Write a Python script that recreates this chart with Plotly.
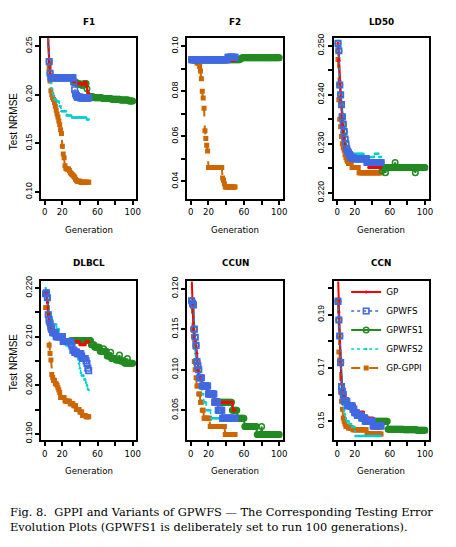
import plotly.graph_objects as go

# generations (x values)
GEN_50 = list(range(1, 51))
GEN_100 = list(range(1, 101))

SERIES_NAMES = ["GP", "GPWFS", "GPWFS1", "GPWFS2", "GP-GPPI"]
PANEL_TITLES = ["F1", "F2", "LD50", "DLBCL", "CCUN", "CCN"]

# ---- F1 ----
F1_GP = [
    0.300, 0.285, 0.272, 0.262, 0.234, 0.222, 0.2175, 0.2175, 0.2175, 0.2175,
    0.2175, 0.2175, 0.2175, 0.2175, 0.2175, 0.2175, 0.2175, 0.2175, 0.2175, 0.2175,
    0.2175, 0.2175, 0.2175, 0.2175, 0.2175, 0.2175, 0.2175, 0.2175, 0.2175, 0.2175,
    0.2175, 0.2175, 0.2135, 0.2135, 0.2135, 0.2135, 0.2115, 0.2115, 0.2115, 0.2115,
    0.2115, 0.2105, 0.2105, 0.2105, 0.2125, 0.2125, 0.2125, 0.2085, 0.2025, 0.2020,
]
F1_GPWFS = [
    0.300, 0.285, 0.272, 0.262, 0.234, 0.222, 0.2175, 0.2175, 0.2175, 0.2175,
    0.2175, 0.2175, 0.2175, 0.2175, 0.2175, 0.2175, 0.2175, 0.2175, 0.2175, 0.2175,
    0.2175, 0.2175, 0.2175, 0.2175, 0.2175, 0.2175, 0.2175, 0.2175, 0.2175, 0.2175,
    0.2175, 0.2175, 0.2130, 0.2050, 0.2010, 0.1990, 0.1975, 0.1975, 0.1975, 0.1975,
    0.1965, 0.1965, 0.1965, 0.1965, 0.1965, 0.1965, 0.1965, 0.1965, 0.1965, 0.1965,
]
F1_GPWFS1 = [
    0.300, 0.285, 0.272, 0.262, 0.234, 0.222, 0.2175, 0.2175, 0.2175, 0.2175,
    0.2175, 0.2175, 0.2175, 0.2175, 0.2175, 0.2175, 0.2175, 0.2175, 0.2175, 0.2175,
    0.2175, 0.2175, 0.2175, 0.2175, 0.2175, 0.2175, 0.2175, 0.2175, 0.2175, 0.2175,
    0.2175, 0.2175, 0.2125, 0.2125, 0.2125, 0.2125, 0.2110, 0.2110, 0.2110, 0.2110,
    0.2110, 0.2098, 0.2098, 0.2098, 0.2115, 0.2115, 0.2115, 0.2060, 0.1978, 0.1978,
    0.1978, 0.1978, 0.1978, 0.1978, 0.1978, 0.1968, 0.1968, 0.1968, 0.1968, 0.1968,
    0.1968, 0.1968, 0.1968, 0.1968, 0.1968, 0.1960, 0.1960, 0.1960, 0.1960, 0.1960,
    0.1960, 0.1960, 0.1960, 0.1960, 0.1960, 0.1952, 0.1952, 0.1952, 0.1952, 0.1952,
    0.1952, 0.1952, 0.1952, 0.1952, 0.1952, 0.1945, 0.1945, 0.1945, 0.1945, 0.1945,
    0.1945, 0.1945, 0.1945, 0.1945, 0.1945, 0.1935, 0.1935, 0.1935, 0.1935, 0.1935,
]
F1_GPWFS2 = [
    0.300, 0.285, 0.272, 0.262, 0.234, 0.222, 0.212, 0.206, 0.202, 0.199,
    0.1950, 0.1950, 0.1950, 0.1930, 0.1930, 0.1930, 0.1880, 0.1880, 0.1830, 0.1830,
    0.1830, 0.1830, 0.1830, 0.1830, 0.1785, 0.1785, 0.1785, 0.1785, 0.1785, 0.1785,
    0.1765, 0.1765, 0.1765, 0.1765, 0.1765, 0.1765, 0.1765, 0.1765, 0.1765, 0.1765,
    0.1765, 0.1765, 0.1765, 0.1765, 0.1765, 0.1765, 0.1765, 0.1745, 0.1745, 0.1745,
]
F1_GPPI = [
    0.300, 0.285, 0.272, 0.262, 0.228, 0.214, 0.204, 0.200, 0.197, 0.195,
    0.192, 0.188, 0.184, 0.180, 0.177, 0.173, 0.169, 0.164, 0.160, 0.147,
    0.139, 0.135, 0.127, 0.124, 0.1235, 0.1235, 0.1235, 0.122, 0.120, 0.119,
    0.118, 0.117, 0.116, 0.115, 0.113, 0.112, 0.111, 0.111, 0.111, 0.111,
    0.110, 0.110, 0.110, 0.110, 0.110, 0.110, 0.110, 0.110, 0.110, 0.110,
]

# ---- F2 ----
F2_GP = [
    0.0940, 0.0940, 0.0940, 0.0940, 0.0940, 0.0940, 0.0940, 0.0940, 0.0940, 0.0940,
    0.0940, 0.0940, 0.0940, 0.0940, 0.0940, 0.0940, 0.0940, 0.0940, 0.0940, 0.0940,
    0.0940, 0.0940, 0.0940, 0.0940, 0.0940, 0.0940, 0.0940, 0.0940, 0.0940, 0.0940,
    0.0940, 0.0940, 0.0940, 0.0940, 0.0940, 0.0940, 0.0940, 0.0940, 0.0940, 0.0940,
    0.0940, 0.0940, 0.0940, 0.0940, 0.0940, 0.0937, 0.0937, 0.0937, 0.0937, 0.0937,
]
F2_GPWFS = [
    0.0940, 0.0940, 0.0940, 0.0940, 0.0940, 0.0940, 0.0940, 0.0940, 0.0940, 0.0940,
    0.0940, 0.0940, 0.0940, 0.0940, 0.0940, 0.0940, 0.0940, 0.0940, 0.0940, 0.0940,
    0.0940, 0.0940, 0.0940, 0.0940, 0.0940, 0.0940, 0.0940, 0.0940, 0.0940, 0.0940,
    0.0940, 0.0940, 0.0940, 0.0940, 0.0940, 0.0940, 0.0940, 0.0940, 0.0940, 0.0940,
    0.0940, 0.0951, 0.0951, 0.0951, 0.0951, 0.0951, 0.0951, 0.0951, 0.0951, 0.0951,
]
F2_GPWFS1 = [
    0.0940, 0.0940, 0.0940, 0.0940, 0.0940, 0.0940, 0.0940, 0.0940, 0.0940, 0.0940,
    0.0940, 0.0940, 0.0940, 0.0940, 0.0940, 0.0940, 0.0940, 0.0940, 0.0940, 0.0940,
    0.0940, 0.0940, 0.0940, 0.0940, 0.0940, 0.0940, 0.0940, 0.0940, 0.0940, 0.0940,
    0.0940, 0.0940, 0.0940, 0.0940, 0.0940, 0.0940, 0.0940, 0.0940, 0.0940, 0.0940,
    0.0940, 0.0940, 0.0940, 0.0940, 0.0940, 0.0940, 0.0940, 0.0940, 0.0940, 0.0940,
    0.0940, 0.0940, 0.0940, 0.0940, 0.0940, 0.0943, 0.0946, 0.0949, 0.0949, 0.0949,
    0.0949, 0.0949, 0.0949, 0.0949, 0.0949, 0.0949, 0.0949, 0.0949, 0.0949, 0.0949,
    0.0949, 0.0949, 0.0949, 0.0949, 0.0949, 0.0949, 0.0949, 0.0949, 0.0949, 0.0949,
    0.0949, 0.0949, 0.0949, 0.0949, 0.0949, 0.0949, 0.0949, 0.0949, 0.0949, 0.0949,
    0.0949, 0.0949, 0.0949, 0.0949, 0.0949, 0.0949, 0.0949, 0.0949, 0.0949, 0.0949,
]
F2_GPWFS2 = [
    0.0940, 0.0940, 0.0940, 0.0940, 0.0940, 0.0940, 0.0940, 0.0940, 0.0940, 0.0940,
    0.0940, 0.0940, 0.0940, 0.0940, 0.0940, 0.0940, 0.0940, 0.0940, 0.0940, 0.0940,
    0.0940, 0.0940, 0.0940, 0.0940, 0.0940, 0.0940, 0.0940, 0.0940, 0.0940, 0.0940,
    0.0940, 0.0940, 0.0940, 0.0940, 0.0940, 0.0940, 0.0940, 0.0940, 0.0940, 0.0940,
    0.0940, 0.0940, 0.0940, 0.0940, 0.0940, 0.0940, 0.0940, 0.0940, 0.0940, 0.0940,
]
F2_GPPI = [
    0.0940, 0.0940, 0.0940, 0.0935, 0.0935, 0.0935, 0.0925, 0.0925, 0.0925, 0.0910,
    0.0890, 0.0855, 0.0800, 0.0770, 0.0725, 0.0625, 0.0590, 0.0560, 0.0535, 0.0462,
    0.0462, 0.0462, 0.0462, 0.0462, 0.0462, 0.0462, 0.0462, 0.0462, 0.0462, 0.0462,
    0.0462, 0.0462, 0.0462, 0.0462, 0.0462, 0.0415, 0.0405, 0.0390, 0.0375, 0.0375,
    0.0375, 0.0375, 0.0375, 0.0375, 0.0375, 0.0375, 0.0375, 0.0375, 0.0375, 0.0375,
]

# ---- LD50 ----
LD50_GP = [
    0.2505, 0.2470, 0.2430, 0.2390, 0.2360, 0.2340, 0.2320, 0.2305, 0.2292, 0.2285,
    0.2280, 0.2280, 0.2280, 0.2280, 0.2280, 0.2272, 0.2272, 0.2272, 0.2272, 0.2272,
    0.2272, 0.2272, 0.2272, 0.2272, 0.2272, 0.2268, 0.2268, 0.2268, 0.2268, 0.2268,
    0.2268, 0.2268, 0.2268, 0.2268, 0.2268, 0.2252, 0.2252, 0.2252, 0.2252, 0.2252,
    0.2252, 0.2252, 0.2252, 0.2252, 0.2252, 0.2252, 0.2252, 0.2252, 0.2252, 0.2252,
]
LD50_GPWFS = [
    0.2505, 0.2490, 0.2420, 0.2400, 0.2380, 0.2355, 0.2340, 0.2325, 0.2310, 0.2300,
    0.2290, 0.2285, 0.2282, 0.2278, 0.2275, 0.2272, 0.2272, 0.2272, 0.2270, 0.2270,
    0.2270, 0.2270, 0.2270, 0.2270, 0.2270, 0.2270, 0.2270, 0.2270, 0.2270, 0.2270,
    0.2270, 0.2270, 0.2270, 0.2262, 0.2262, 0.2262, 0.2262, 0.2262, 0.2262, 0.2262,
    0.2262, 0.2262, 0.2262, 0.2262, 0.2262, 0.2262, 0.2262, 0.2262, 0.2262, 0.2262,
]
LD50_GPWFS1 = [
    0.2505, 0.2490, 0.2420, 0.2400, 0.2380, 0.2355, 0.2340, 0.2325, 0.2310, 0.2300,
    0.2290, 0.2285, 0.2282, 0.2278, 0.2275, 0.2272, 0.2272, 0.2272, 0.2270, 0.2270,
    0.2270, 0.2270, 0.2270, 0.2270, 0.2270, 0.2270, 0.2270, 0.2270, 0.2270, 0.2270,
    0.2270, 0.2270, 0.2270, 0.2262, 0.2262, 0.2262, 0.2262, 0.2262, 0.2262, 0.2262,
    0.2262, 0.2262, 0.2262, 0.2262, 0.2262, 0.2262, 0.2262, 0.2262, 0.2262, 0.2262,
    0.2245, 0.2252, 0.2252, 0.2252, 0.2241, 0.2252, 0.2252, 0.2252, 0.2252, 0.2252,
    0.2252, 0.2252, 0.2252, 0.2252, 0.2252, 0.2262, 0.2252, 0.2252, 0.2252, 0.2252,
    0.2252, 0.2252, 0.2252, 0.2252, 0.2252, 0.2252, 0.2252, 0.2252, 0.2252, 0.2252,
    0.2252, 0.2252, 0.2252, 0.2252, 0.2252, 0.2252, 0.2252, 0.2252, 0.2241, 0.2252,
    0.2252, 0.2252, 0.2252, 0.2252, 0.2252, 0.2252, 0.2252, 0.2252, 0.2252, 0.2252,
]
LD50_GPWFS2 = [
    0.2505, 0.2480, 0.2430, 0.2400, 0.2370, 0.2345, 0.2330, 0.2315, 0.2300, 0.2292,
    0.2288, 0.2284, 0.2280, 0.2280, 0.2280, 0.2280, 0.2280, 0.2280, 0.2280, 0.2280,
    0.2280, 0.2280, 0.2280, 0.2280, 0.2280, 0.2280, 0.2280, 0.2280, 0.2280, 0.2280,
    0.2273, 0.2273, 0.2273, 0.2273, 0.2273, 0.2273, 0.2273, 0.2273, 0.2273, 0.2273,
    0.2273, 0.2273, 0.2280, 0.2280, 0.2280, 0.2280, 0.2280, 0.2273, 0.2273, 0.2273,
]
LD50_GPPI = [
    0.2472, 0.2390, 0.2350, 0.2335, 0.2315, 0.2300, 0.2292, 0.2287, 0.2278, 0.2272,
    0.2267, 0.2264, 0.2260, 0.2260, 0.2260, 0.2260, 0.2252, 0.2252, 0.2252, 0.2252,
    0.2252, 0.2252, 0.2252, 0.2252, 0.2241, 0.2241, 0.2241, 0.2241, 0.2241, 0.2241,
    0.2241, 0.2241, 0.2241, 0.2241, 0.2241, 0.2241, 0.2241, 0.2241, 0.2241, 0.2241,
    0.2241, 0.2241, 0.2241, 0.2241, 0.2241, 0.2241, 0.2241, 0.2241, 0.2241, 0.2241,
]

# ---- DLBCL ----
DLBCL_GP = [
    0.2190, 0.2190, 0.2170, 0.2145, 0.2130, 0.2122, 0.2115, 0.2108, 0.2108, 0.2108,
    0.2108, 0.2108, 0.2100, 0.2100, 0.2100, 0.2100, 0.2100, 0.2100, 0.2100, 0.2100,
    0.2092, 0.2092, 0.2092, 0.2092, 0.2092, 0.2092, 0.2092, 0.2092, 0.2092, 0.2090,
    0.2090, 0.2090, 0.2090, 0.2090, 0.2090, 0.2090, 0.2090, 0.2090, 0.2090, 0.2083,
    0.2083, 0.2083, 0.2083, 0.2083, 0.2083, 0.2083, 0.2090, 0.2090, 0.2090, 0.2090,
]
DLBCL_GPWFS = [
    0.2188, 0.2190, 0.2180, 0.2145, 0.2135, 0.2128, 0.2120, 0.2115, 0.2108, 0.2108,
    0.2108, 0.2108, 0.2100, 0.2100, 0.2100, 0.2100, 0.2100, 0.2100, 0.2100, 0.2100,
    0.2090, 0.2090, 0.2090, 0.2090, 0.2090, 0.2090, 0.2090, 0.2090, 0.2090, 0.2085,
    0.2080, 0.2072, 0.2072, 0.2068, 0.2068, 0.2068, 0.2065, 0.2065, 0.2065, 0.2065,
    0.2065, 0.2060, 0.2055, 0.2055, 0.2055, 0.2055, 0.2050, 0.2045, 0.2035, 0.2030,
]
DLBCL_GPWFS1 = [
    0.2188, 0.2190, 0.2180, 0.2145, 0.2135, 0.2128, 0.2120, 0.2115, 0.2108, 0.2108,
    0.2108, 0.2108, 0.2100, 0.2100, 0.2100, 0.2100, 0.2100, 0.2100, 0.2100, 0.2100,
    0.2090, 0.2090, 0.2090, 0.2090, 0.2090, 0.2090, 0.2090, 0.2090, 0.2090, 0.2092,
    0.2092, 0.2092, 0.2092, 0.2092, 0.2092, 0.2092, 0.2092, 0.2092, 0.2092, 0.2092,
    0.2092, 0.2092, 0.2092, 0.2092, 0.2092, 0.2092, 0.2092, 0.2092, 0.2092, 0.2092,
    0.2092, 0.2092, 0.2083, 0.2083, 0.2083, 0.2083, 0.2078, 0.2078, 0.2078, 0.2078,
    0.2078, 0.2078, 0.2070, 0.2070, 0.2070, 0.2070, 0.2075, 0.2070, 0.2070, 0.2070,
    0.2060, 0.2060, 0.2060, 0.2060, 0.2068, 0.2055, 0.2055, 0.2055, 0.2055, 0.2055,
    0.2052, 0.2052, 0.2052, 0.2052, 0.2062, 0.2050, 0.2050, 0.2050, 0.2050, 0.2050,
    0.2045, 0.2045, 0.2045, 0.2055, 0.2045, 0.2045, 0.2045, 0.2045, 0.2045, 0.2045,
]
DLBCL_GPWFS2 = [
    0.2200, 0.2195, 0.2185, 0.2170, 0.2150, 0.2145, 0.2135, 0.2130, 0.2125, 0.2125,
    0.2125, 0.2125, 0.2125, 0.2115, 0.2115, 0.2115, 0.2100, 0.2100, 0.2090, 0.2090,
    0.2090, 0.2090, 0.2090, 0.2082, 0.2082, 0.2082, 0.2082, 0.2082, 0.2082, 0.2082,
    0.2082, 0.2082, 0.2075, 0.2075, 0.2075, 0.2070, 0.2062, 0.2055, 0.2045, 0.2035,
    0.2025, 0.2020, 0.2020, 0.2020, 0.2012, 0.2012, 0.2005, 0.2000, 0.1992, 0.1990,
]
DLBCL_GPPI = [
    0.2160, 0.2160, 0.2160, 0.2130, 0.2082, 0.2065, 0.2052, 0.2022, 0.2016, 0.2010,
    0.2010, 0.2003, 0.2003, 0.2000, 0.1995, 0.1990, 0.1985, 0.1975, 0.1975, 0.1975,
    0.1975, 0.1975, 0.1968, 0.1967, 0.1967, 0.1967, 0.1967, 0.1967, 0.1962, 0.1962,
    0.1962, 0.1962, 0.1958, 0.1958, 0.1958, 0.1950, 0.1950, 0.1950, 0.1950, 0.1945,
    0.1945, 0.1945, 0.1938, 0.1938, 0.1938, 0.1938, 0.1935, 0.1935, 0.1935, 0.1935,
]

# ---- CCUN ----
CCUN_GP = [
    0.1215, 0.1180, 0.1150, 0.1140, 0.1135, 0.1130, 0.1120, 0.1100, 0.1095, 0.1090,
    0.1090, 0.1090, 0.1080, 0.1080, 0.1080, 0.1080, 0.1080, 0.1080, 0.1070, 0.1070,
    0.1070, 0.1070, 0.1070, 0.1070, 0.1070, 0.1063, 0.1063, 0.1063, 0.1063, 0.1063,
    0.1063, 0.1060, 0.1060, 0.1060, 0.1060, 0.1060, 0.1060, 0.1060, 0.1060, 0.1060,
    0.1060, 0.1060, 0.1060, 0.1060, 0.1060, 0.1060, 0.1060, 0.1050, 0.1050, 0.1050,
]
CCUN_GPWFS = [
    0.1185, 0.1182, 0.1180, 0.1150, 0.1140, 0.1130, 0.1110, 0.1105, 0.1100, 0.1090,
    0.1090, 0.1090, 0.1080, 0.1080, 0.1080, 0.1080, 0.1080, 0.1080, 0.1080, 0.1070,
    0.1070, 0.1070, 0.1070, 0.1070, 0.1070, 0.1070, 0.1060, 0.1060, 0.1060, 0.1060,
    0.1050, 0.1050, 0.1050, 0.1050, 0.1050, 0.1040, 0.1040, 0.1040, 0.1040, 0.1040,
    0.1040, 0.1040, 0.1040, 0.1040, 0.1040, 0.1040, 0.1040, 0.1040, 0.1040, 0.1040,
]
CCUN_GPWFS1 = [
    0.1185, 0.1182, 0.1180, 0.1150, 0.1140, 0.1130, 0.1110, 0.1105, 0.1100, 0.1090,
    0.1090, 0.1090, 0.1080, 0.1080, 0.1080, 0.1080, 0.1080, 0.1080, 0.1080, 0.1070,
    0.1070, 0.1070, 0.1070, 0.1070, 0.1070, 0.1070, 0.1060, 0.1060, 0.1060, 0.1060,
    0.1060, 0.1060, 0.1060, 0.1060, 0.1060, 0.1060, 0.1060, 0.1060, 0.1060, 0.1060,
    0.1060, 0.1060, 0.1060, 0.1060, 0.1060, 0.1060, 0.1050, 0.1050, 0.1050, 0.1050,
    0.1050, 0.1050, 0.1040, 0.1040, 0.1040, 0.1040, 0.1040, 0.1040, 0.1040, 0.1040,
    0.1030, 0.1030, 0.1030, 0.1030, 0.1030, 0.1030, 0.1030, 0.1030, 0.1030, 0.1030,
    0.1030, 0.1030, 0.1030, 0.1030, 0.1020, 0.1020, 0.1020, 0.1020, 0.1020, 0.1030,
    0.1020, 0.1020, 0.1020, 0.1020, 0.1020, 0.1020, 0.1020, 0.1020, 0.1020, 0.1020,
    0.1020, 0.1020, 0.1020, 0.1020, 0.1020, 0.1020, 0.1020, 0.1020, 0.1020, 0.1020,
]
CCUN_GPWFS2 = [
    0.1185, 0.1180, 0.1141, 0.1130, 0.1120, 0.1110, 0.1100, 0.1100, 0.1090, 0.1080,
    0.1080, 0.1080, 0.1070, 0.1070, 0.1060, 0.1060, 0.1060, 0.1050, 0.1050, 0.1050,
    0.1050, 0.1050, 0.1040, 0.1040, 0.1040, 0.1040, 0.1040, 0.1040, 0.1040, 0.1040,
    0.1040, 0.1040, 0.1040, 0.1040, 0.1040, 0.1040, 0.1040, 0.1040, 0.1040, 0.1040,
    0.1040, 0.1040, 0.1040, 0.1040, 0.1040, 0.1040, 0.1040, 0.1040, 0.1040, 0.1040,
]
CCUN_GPPI = [
    0.1180, 0.1150, 0.1141, 0.1110, 0.1100, 0.1090, 0.1080, 0.1080, 0.1070, 0.1070,
    0.1060, 0.1060, 0.1050, 0.1050, 0.1040, 0.1040, 0.1040, 0.1040, 0.1040, 0.1040,
    0.1040, 0.1030, 0.1030, 0.1030, 0.1030, 0.1030, 0.1030, 0.1030, 0.1030, 0.1030,
    0.1030, 0.1030, 0.1030, 0.1030, 0.1030, 0.1030, 0.1030, 0.1030, 0.1020, 0.1020,
    0.1020, 0.1020, 0.1020, 0.1020, 0.1020, 0.1020, 0.1020, 0.1020, 0.1020, 0.1020,
]

# ---- CCN ----
CCN_GP = [
    0.2050, 0.1910, 0.1790, 0.1720, 0.1640, 0.1620, 0.1605, 0.1595, 0.1585, 0.1585,
    0.1585, 0.1585, 0.1560, 0.1560, 0.1560, 0.1560, 0.1560, 0.1560, 0.1560, 0.1560,
    0.1535, 0.1535, 0.1535, 0.1535, 0.1535, 0.1535, 0.1535, 0.1535, 0.1535, 0.1535,
    0.1520, 0.1520, 0.1520, 0.1520, 0.1512, 0.1512, 0.1512, 0.1512, 0.1512, 0.1512,
    0.1512, 0.1490, 0.1490, 0.1490, 0.1490, 0.1490, 0.1490, 0.1490, 0.1490, 0.1490,
]
CCN_GPWFS = [
    0.1950, 0.1880, 0.1820, 0.1720, 0.1630, 0.1612, 0.1600, 0.1575, 0.1575, 0.1575,
    0.1575, 0.1558, 0.1558, 0.1558, 0.1558, 0.1558, 0.1558, 0.1545, 0.1545, 0.1532,
    0.1532, 0.1532, 0.1522, 0.1522, 0.1522, 0.1522, 0.1522, 0.1512, 0.1512, 0.1512,
    0.1512, 0.1500, 0.1500, 0.1500, 0.1500, 0.1500, 0.1500, 0.1500, 0.1500, 0.1500,
    0.1482, 0.1482, 0.1482, 0.1482, 0.1482, 0.1482, 0.1482, 0.1482, 0.1482, 0.1482,
]
CCN_GPWFS1 = [
    0.1950, 0.1880, 0.1820, 0.1720, 0.1630, 0.1612, 0.1600, 0.1575, 0.1575, 0.1575,
    0.1575, 0.1558, 0.1558, 0.1558, 0.1558, 0.1558, 0.1558, 0.1545, 0.1545, 0.1532,
    0.1532, 0.1532, 0.1522, 0.1522, 0.1522, 0.1522, 0.1522, 0.1512, 0.1512, 0.1512,
    0.1512, 0.1500, 0.1500, 0.1500, 0.1500, 0.1500, 0.1500, 0.1500, 0.1500, 0.1500,
    0.1500, 0.1500, 0.1500, 0.1500, 0.1500, 0.1500, 0.1500, 0.1500, 0.1500, 0.1500,
    0.1500, 0.1500, 0.1500, 0.1500, 0.1500, 0.1500, 0.1500, 0.1470, 0.1470, 0.1470,
    0.1470, 0.1470, 0.1470, 0.1470, 0.1470, 0.1470, 0.1470, 0.1470, 0.1470, 0.1470,
    0.1470, 0.1470, 0.1470, 0.1470, 0.1470, 0.1468, 0.1468, 0.1468, 0.1468, 0.1468,
    0.1468, 0.1468, 0.1468, 0.1468, 0.1468, 0.1468, 0.1468, 0.1468, 0.1468, 0.1468,
    0.1466, 0.1466, 0.1466, 0.1466, 0.1466, 0.1466, 0.1466, 0.1466, 0.1466, 0.1466,
]
CCN_GPWFS2 = [
    0.1915, 0.1850, 0.1760, 0.1680, 0.1630, 0.1590, 0.1560, 0.1540, 0.1525, 0.1512,
    0.1500, 0.1500, 0.1500, 0.1490, 0.1490, 0.1490, 0.1478, 0.1478, 0.1478, 0.1478,
    0.1445, 0.1445, 0.1445, 0.1445, 0.1445, 0.1445, 0.1445, 0.1445, 0.1445, 0.1445,
    0.1445, 0.1445, 0.1445, 0.1445, 0.1445, 0.1445, 0.1445, 0.1445, 0.1445, 0.1445,
    0.1445, 0.1445, 0.1445, 0.1445, 0.1445, 0.1445, 0.1445, 0.1445, 0.1445, 0.1445,
]
CCN_GPPI = [
    0.1955, 0.1760, 0.1730, 0.1610, 0.1575, 0.1545, 0.1512, 0.1500, 0.1490, 0.1480,
    0.1480, 0.1480, 0.1475, 0.1475, 0.1475, 0.1475, 0.1475, 0.1468, 0.1468, 0.1468,
    0.1468, 0.1468, 0.1468, 0.1468, 0.1468, 0.1468, 0.1468, 0.1468, 0.1468, 0.1468,
    0.1468, 0.1468, 0.1468, 0.1452, 0.1452, 0.1452, 0.1452, 0.1452, 0.1452, 0.1452,
    0.1452, 0.1452, 0.1452, 0.1452, 0.1452, 0.1452, 0.1452, 0.1452, 0.1452, 0.1452,
]

# axis ticks
X_TICKS = [0, 20, 40, 60, 80, 100]
X_TICK_TEXT = ["0", "20", "", "60", "", "100"]
F1_Y_TICKS = [0.10, 0.15, 0.20, 0.25]
F1_Y_TEXT = ["0.10", "0.15", "0.20", "0.25"]
F2_Y_TICKS = [0.04, 0.05, 0.06, 0.07, 0.08, 0.09, 0.10]
F2_Y_TEXT = ["0.04", "", "0.06", "", "0.08", "", "0.10"]
LD50_Y_TICKS = [0.220, 0.225, 0.230, 0.235, 0.240, 0.245, 0.250]
LD50_Y_TEXT = ["0.220", "", "0.230", "", "0.240", "", "0.250"]
DLBCL_Y_TICKS = [0.190, 0.195, 0.200, 0.205, 0.210, 0.215, 0.220]
DLBCL_Y_TEXT = ["0.190", "", "0.200", "", "0.210", "", "0.220"]
CCUN_Y_TICKS = [0.105, 0.110, 0.115, 0.120]
CCUN_Y_TEXT = ["0.105", "0.110", "0.115", "0.120"]
CCN_Y_TICKS = [0.15, 0.16, 0.17, 0.18, 0.19, 0.20]
CCN_Y_TEXT = ["0.15", "", "0.17", "", "0.19", ""]

PANEL_SERIES = [
    [F1_GP, F1_GPWFS, F1_GPWFS1, F1_GPWFS2, F1_GPPI],
    [F2_GP, F2_GPWFS, F2_GPWFS1, F2_GPWFS2, F2_GPPI],
    [LD50_GP, LD50_GPWFS, LD50_GPWFS1, LD50_GPWFS2, LD50_GPPI],
    [DLBCL_GP, DLBCL_GPWFS, DLBCL_GPWFS1, DLBCL_GPWFS2, DLBCL_GPPI],
    [CCUN_GP, CCUN_GPWFS, CCUN_GPWFS1, CCUN_GPWFS2, CCUN_GPPI],
    [CCN_GP, CCN_GPWFS, CCN_GPWFS1, CCN_GPWFS2, CCN_GPPI],
]
PANEL_TICKS = [
    (F1_Y_TICKS, F1_Y_TEXT), (F2_Y_TICKS, F2_Y_TEXT), (LD50_Y_TICKS, LD50_Y_TEXT),
    (DLBCL_Y_TICKS, DLBCL_Y_TEXT), (CCUN_Y_TICKS, CCUN_Y_TEXT), (CCN_Y_TICKS, CCN_Y_TEXT),
]

CAPTION = ("Fig. 8.  GPPI and Variants of GPWFS \u2014 The Corresponding Testing Error<br>"
           "Evolution Plots (GPWFS1 is deliberately set to run 100 generations).")

# ---- styling / geometry ----
W, H = 456, 547
SANS = "Liberation Sans, Arial, sans-serif"
WIDE = "DejaVu Sans, Verdana, sans-serif"   # the source image is stretched sideways
SERIF = "DejaVu Serif, Liberation Serif, serif"
COL_X = [(41.7, 137.7), (189.3, 286.0), (337.3, 433.3)]
ROW_Y = [(33.0, 196.0), (280.0, 441.7)]
TITLE_Y = [16.0, 261.7]
GEN_Y = [227.7, 472.7]
NRMSE_Y = [117.0, 362.0]
Y_RANGES = [
    [0.0929, 0.2578], [0.0323, 0.1034], [0.2188, 0.2515],
    [0.18865, 0.22135], [0.10128, 0.12089], [0.1428, 0.2025],
]
STYLE = {
    "GP": dict(color="#ff0000", dash="solid", width=2.0, symbol="circle", size=3, mline=0),
    "GPWFS": dict(color="#4169e1", dash="dot", width=1.5, symbol="square-open", size=5.5, mline=1.6),
    "GPWFS1": dict(color="#228b22", dash="solid", width=2.0, symbol="circle-open", size=5.5, mline=1.5),
    "GPWFS2": dict(color="#00ced1", dash="dot", width=1.5, symbol="circle", size=2.5, mline=0),
    "GP-GPPI": dict(color="#cd6600", dash="dash", width=2.0, symbol="square", size=5, mline=0),
}
DRAW_ORDER = [4, 3, 2, 0, 1]  # GP-GPPI at the bottom, GPWFS on top


def px_x(p):
    return p / W


def px_y(p):
    return 1 - p / H


def note(text, x, y, family, size, angle=0, xanchor="center", align="center"):
    return dict(text=text, x=px_x(x), y=px_y(y), xref="paper", yref="paper",
                xanchor=xanchor, yanchor="middle", textangle=angle, showarrow=False,
                align=align, font=dict(family=family, size=size, color="black"))


fig = go.Figure()
layout = dict(
    width=W, height=H, autosize=False,
    margin=dict(l=0, r=0, t=0, b=0),
    paper_bgcolor="white", plot_bgcolor="white",
    showlegend=True,
    legend=dict(x=px_x(350), y=px_y(276), xanchor="left", yanchor="top",
                bgcolor="rgba(0,0,0,0)", tracegroupgap=0,
                font=dict(family=WIDE, size=8.8, color="black"), itemwidth=30),
    annotations=[],
)

for i, title in enumerate(PANEL_TITLES):
    r, c = divmod(i, 3)
    n = "" if i == 0 else str(i + 1)
    x0, x1 = COL_X[c]
    y0, y1 = ROW_Y[r]
    tickvals, ticktext = PANEL_TICKS[i]
    axis_common = dict(showline=True, mirror=True, linecolor="black", linewidth=2,
                       ticks="outside", ticklen=4, tickwidth=1.5, tickcolor="black",
                       showgrid=False, zeroline=False)
    layout["xaxis" + n] = dict(axis_common, domain=[px_x(x0), px_x(x1)], anchor="y" + n,
                               range=[-4, 104], tickmode="array",
                               tickvals=X_TICKS, ticktext=X_TICK_TEXT,
                               tickfont=dict(family=WIDE, size=8.6, color="black"))
    layout["yaxis" + n] = dict(axis_common, domain=[px_y(y1), px_y(y0)], anchor="x" + n,
                               range=Y_RANGES[i], tickmode="array",
                               tickvals=tickvals, ticktext=ticktext, tickangle=-90,
                               tickfont=dict(family=SANS, size=8.6, color="black"))

    cx = (x0 + x1) / 2
    layout["annotations"].append(note("<b>%s</b>" % title, cx, TITLE_Y[r], WIDE, 8.8))
    layout["annotations"].append(note("Generation", cx, GEN_Y[r], WIDE, 8.6))
    if c == 0:
        layout["annotations"].append(note("Test NRMSE", 13.3, NRMSE_Y[r], SANS, 10, angle=-90))

    for k in DRAW_ORDER:
        name = SERIES_NAMES[k]
        st = STYLE[name]
        vals = PANEL_SERIES[i][k]
        gens = GEN_100 if len(vals) == 100 else GEN_50
        fig.add_trace(go.Scatter(
            x=gens, y=vals, xaxis="x" + n, yaxis="y" + n,
            mode="lines+markers", name=name, legendgroup=name,
            legendrank=k + 1, showlegend=(i == 5),
            line=dict(color=st["color"], dash=st["dash"], width=st["width"]),
            marker=dict(symbol=st["symbol"], size=st["size"], color=st["color"],
                        line=dict(color=st["color"], width=st["mline"])),
            hoverinfo="skip",
        ))

layout["annotations"].append(note(CAPTION, 8, 522, SERIF, 11.4, xanchor="left", align="left"))

fig.update_layout(**layout)
fig.write_html("out.html", config={"displayModeBar": False},
               post_script="document.body.style.margin='0';")
